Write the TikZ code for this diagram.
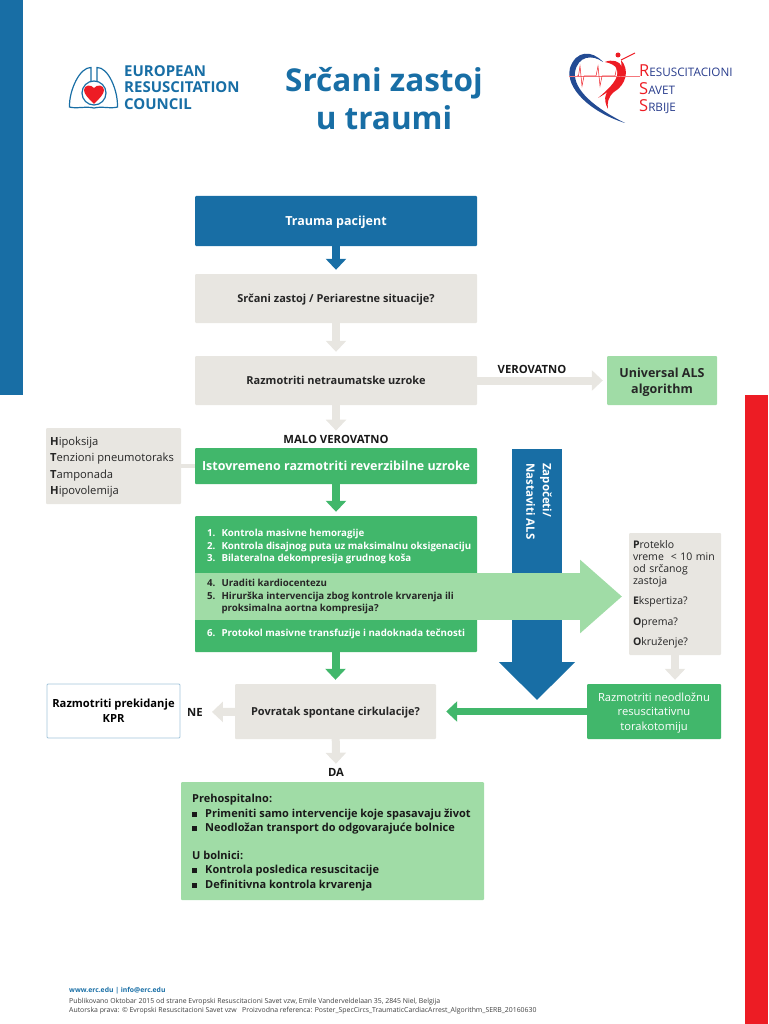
\documentclass[tikz,border=0pt]{standalone}
\usepackage{fontspec}
\setmainfont{Open Sans}
\usetikzlibrary{arrows.meta, positioning}
\definecolor{ercblue}{RGB}{24,110,165}
\definecolor{ercgreen}{RGB}{65,183,107}
\definecolor{ercmint}{RGB}{160,220,166}
\definecolor{ercgray}{RGB}{232,230,225}
\definecolor{ercred}{RGB}{237,28,36}
\definecolor{rssnavy}{RGB}{40,60,140}
\newcommand{\sqb}{\rule[0.5pt]{5pt}{5pt}\hspace{8pt}}

\begin{document}
\begin{tikzpicture}[x=1pt, y=-1pt,
    bluebox/.style={rectangle, rounded corners=1pt, fill=ercblue, text=white, font=\fontsize{12.5}{14}\selectfont\bfseries, align=center},
    graybox/.style={rectangle, rounded corners=1pt, fill=ercgray, text=black!85, font=\fontsize{11}{14}\selectfont\bfseries, align=center},
    greenbox/.style={rectangle, rounded corners=1pt, fill=ercgreen, text=white, font=\fontsize{12.5}{14}\selectfont\bfseries, align=center},
    mintbox/.style={rectangle, rounded corners=1pt, fill=ercmint, text=black!85, font=\fontsize{12.5}{16}\selectfont\bfseries, align=center},
    tag/.style={text=black!90, font=\fontsize{11.3}{12}\selectfont\bfseries, inner sep=0pt},
    listtext/.style={inner sep=0pt, align=left, font=\fontsize{9.7}{12.5}\selectfont\bfseries},
    flow/.style={line width=8pt, -{Triangle[length=11pt,width=20pt]}, shorten >=4pt},
    bigblue/.style={line width=50pt, ercblue, -{Triangle[length=38pt,width=74pt]}},
    bigmint/.style={line width=47pt, ercmint, -{Triangle[length=42pt,width=71pt]}}
]
\useasboundingbox (0,0) rectangle (768,1024);

% Side bars
\fill[ercblue] (0,0) rectangle (23,395);
\fill[ercred] (745,395) rectangle (768,1024);

% Title
\node[text=ercblue, font=\fontsize{31.5}{38}\selectfont\bfseries, align=center] (title) at (384,99) {Srčani zastoj\\u traumi};

% ERC logo
\draw[ercblue, line width=1.2pt] (91,81) -- (91,67.5) .. controls (80,67) and (69,90) .. (69.5,107) .. controls (76,109) and (86,106) .. (94,108);
\draw[ercblue, line width=1.2pt] (97,81) -- (97,67.5) .. controls (108,67) and (118,90) .. (117.5,107) .. controls (111,109) and (102,106) .. (94,108);
\draw[ercblue, line width=1.2pt] (94,93) circle (12pt);
\fill[ercred] (94,104) .. controls (88,98) and (84,94) .. (84,90) .. controls (84,85) and (91,84) .. (94,88) .. controls (97,84) and (104,85) .. (104,90) .. controls (104,94) and (100,98) .. (94,104) -- cycle;
\node[text=ercblue, font=\fontsize{15}{16.5}\selectfont\bfseries, align=left, inner sep=0pt, anchor=west] (erc) at (124,87.5) {EUROPEAN\\RESUSCITATION\\COUNCIL};

% RSS logo
\fill[rssnavy!70!ercblue] (603,62) .. controls (592,50) and (576,50) .. (570,68) .. controls (565,88) and (590,112) .. (625,123) .. controls (595,108) and (573,90) .. (575,72) .. controls (578,56) and (592,54) .. (603,62) -- cycle;
\fill[ercred] (605,62) .. controls (612,59) and (620,61) .. (622,67) .. controls (625,80) and (612,90) .. (598,98) .. controls (610,88) and (620,78) .. (617,69) .. controls (615,65) and (610,63) .. (605,62) -- cycle;
\fill[ercred] (621,60) .. controls (630,70) and (626,85) .. (614,92) .. controls (608,97) and (607,103) .. (608,109) .. controls (602,98) and (606,90) .. (615,84) .. controls (622,78) and (622,68) .. (621,60) -- cycle;
\fill[ercred] (618,55) circle (2.5pt);
\draw[ercred, line width=1pt] (621,60) -- (635,53);
\draw[ercred!60, line width=0.4pt] (569,76) -- (640,76);
\draw[ercred, line width=0.5pt] (577,76) -- (578.5,76) -- (580,66) -- (582,86) -- (584,76) -- (596,76) -- (598,66) -- (600,86) -- (602,76) -- (615,76) -- (617,66) -- (619,86) -- (621,76);
\node[anchor=west, inner sep=0pt, text=rssnavy, font=\fontsize{11.7}{17.5}\selectfont, align=left] (rss) at (639,89.5) {{\fontsize{16.5}{14}\selectfont\color{ercred}R}ESUSCITACIONI\\{\fontsize{16.5}{14}\selectfont\color{ercred}S}AVET\\{\fontsize{16.5}{14}\selectfont\color{ercred}S}RBIJE};

% Upper column
\node[bluebox, minimum width=282pt, minimum height=50pt, text depth=0pt] (trauma) at (336,221) {Trauma pacijent};
\node[graybox, minimum width=282pt, minimum height=49pt, text depth=0pt] (zastoj) at (336,298.5) {Srčani zastoj / Periarestne situacije?};
\node[graybox, minimum width=282pt, minimum height=49pt, text depth=0pt] (uzroke) at (336,380.5) {Razmotriti netraumatske uzroke};

% Universal ALS
\node[mintbox, minimum width=110pt, minimum height=49pt, text depth=0pt] (als) at (662,380.5) {Universal ALS\\algorithm};
\node[tag] (verovatno) at (532,369) {VEROVATNO};
\node[tag] (malo) at (336,439) {MALO VEROVATNO};

% Reversible causes
\node[greenbox, minimum width=282pt, minimum height=36pt, text depth=0pt] (reverz) at (336,466) {Istovremeno razmotriti reverzibilne uzroke};
\node[graybox, minimum width=135pt, minimum height=76pt] (hipoks) at (113.5,466) {};
\node[anchor=west, inner sep=0pt, text=black!85, font=\fontsize{11.2}{16.3}\selectfont, align=left] (hipokstext) at (50,467) {\textbf{H}ipoksija\\\textbf{T}enzioni pneumotoraks\\\textbf{T}amponada\\\textbf{H}ipovolemija};

% Blue arrow, behind the list
\coordinate (alstop) at (537,449);
\coordinate (alstip) at (537,700);
\draw[bigblue] (alstop) -- (alstip);
\node[text=white, rotate=-90, anchor=north west, inner sep=0pt, font=\fontsize{11.5}{16.5}\selectfont\bfseries, align=left] (zapoceti) at (552,463) {Započeti/\\Nastaviti ALS};

% Interventions
\node[rectangle, rounded corners=1pt, fill=ercgreen, minimum width=282pt, minimum height=136pt] (interv) at (336,584) {};
\coordinate (bandstart) at (195,596.5);
\coordinate (bandtip) at (622,596.5);
\draw[bigmint] (bandstart) -- (bandtip);
\node[listtext, text=white, anchor=north west] (list1) at (207,528) {\begin{tabular}{@{}l@{\hspace{6pt}}l@{}}1.&Kontrola masivne hemoragije\\2.&Kontrola disajnog puta uz maksimalnu oksigenaciju\\3.&Bilateralna dekompresija grudnog koša\end{tabular}};
\node[listtext, text=black!85, anchor=north west] (list2) at (207,578) {\begin{tabular}{@{}l@{\hspace{6pt}}l@{}}4.&Uraditi kardiocentezu\\5.&Hirurška intervencija zbog kontrole krvarenja ili\\&proksimalna aortna kompresija?\end{tabular}};
\node[listtext, text=white, anchor=north west] (list3) at (207,628) {\begin{tabular}{@{}l@{\hspace{6pt}}l@{}}6.&Protokol masivne transfuzije i nadoknada tečnosti\end{tabular}};

% PEOO box
\node[graybox, minimum width=92pt, minimum height=122pt, text width=84pt, font=\fontsize{10.5}{12}\selectfont, align=left, inner xsep=4pt] (peoo) at (675,594) {\textbf{P}roteklo\\vreme\ \ < 10 min\\od srčanog\\zastoja\\[8pt]\textbf{E}kspertiza?\\[9pt]\textbf{O}prema?\\[8pt]\textbf{O}kruženje?};

% Lower row
\node[greenbox, minimum width=134pt, minimum height=55pt, font=\fontsize{11.2}{14.6}\selectfont, text depth=0pt] (torako) at (654,711.5) {Razmotriti neodložnu\\resuscitativnu\\torakotomiju};
\node[graybox, minimum width=201pt, minimum height=55pt, text depth=0pt] (rosc) at (335.5,711.5) {Povratak spontane cirkulacije?};
\node[tag] (ne) at (195,712) {NE};
\node[rectangle, rounded corners=1pt, draw=ercblue!40, line width=0.8pt, fill=white, minimum width=133pt, minimum height=54pt, align=center, font=\fontsize{11.2}{15}\selectfont\bfseries] (kpr) at (113.5,711) {Razmotriti prekidanje\\KPR};
\node[tag] (da) at (336,772) {DA};

% After ROSC
\node[rectangle, rounded corners=1pt, fill=ercmint, minimum width=303pt, minimum height=118pt] (posle) at (332.5,841) {};
\node[listtext, text=black!90, anchor=north west, font=\fontsize{11}{14.5}\selectfont\bfseries] (prehosp) at (192,794) {Prehospitalno:\\\sqb Primeniti samo intervencije koje spasavaju život\\\sqb Neodložan transport do odgovarajuće bolnice\\[13pt]U bolnici:\\\sqb Kontrola posledica resuscitacije\\\sqb Definitivna kontrola krvarenja};

% Footer
\node[anchor=west, inner sep=0pt, text=ercblue, font=\fontsize{6.8}{8}\selectfont\bfseries] (web) at (69,991) {www.erc.edu | info@erc.edu};
\node[anchor=north west, inner sep=0pt, text=black!75, font=\fontsize{6.9}{9.5}\selectfont, align=left] (autor) at (69,998) {Publikovano Oktobar 2015 od strane Evropski Resuscitacioni Savet vzw, Emile Vanderveldelaan 35, 2845 Niel, Belgija\\Autorska prava: © Evropski Resuscitacioni Savet vzw\ \ \ Proizvodna referenca: Poster\_SpecCircs\_TraumaticCardiacArrest\_Algorithm\_SERB\_20160630};

% Arrows
\draw[flow, ercblue] (trauma) -- (zastoj);
\draw[flow, ercgray] (zastoj) -- (uzroke);
\draw[flow, ercgray] (uzroke) -- (malo);
\draw[flow, ercgray] (uzroke) -- (als);
\draw[line width=4pt, ercgray] (hipoks.east |- reverz) -- (reverz);
\draw[flow, ercgreen] (reverz) -- (interv);
\draw[flow, ercgreen] (interv.south -| rosc) -- (rosc);
\draw[flow, ercgray] (peoo) -- (peoo |- torako.north);
\draw[flow, ercgreen, line width=7pt, shorten >=10pt] (torako) -- (rosc);
\draw[flow, ercgray, shorten >=9pt] (rosc) -- (ne);
\draw[flow, ercgray] (rosc) -- (da);

\end{tikzpicture}
\end{document}
